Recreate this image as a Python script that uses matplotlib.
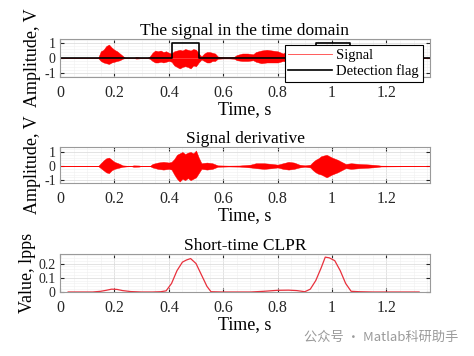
import numpy as np
import matplotlib
matplotlib.use('Agg')
import matplotlib.pyplot as plt
from matplotlib.ticker import AutoMinorLocator

plt.rcParams['font.family'] = ['Liberation Serif', 'DejaVu Serif']

# Signal envelope (time, upper, lower)
t_sig = [0.00, 0.14, 0.15, 0.16, 0.17, 0.18, 0.19, 0.20, 0.21, 0.22, 0.23, 0.24,
         0.27, 0.28, 0.29, 0.30, 0.32, 0.33, 0.34, 0.35, 0.36, 0.37, 0.38, 0.39,
         0.40, 0.41, 0.42, 0.43, 0.44, 0.45, 0.46, 0.47, 0.48, 0.49, 0.50, 0.51,
         0.52, 0.53, 0.54, 0.55, 0.56, 0.57, 0.58, 0.60, 0.62, 0.64, 0.65, 0.67,
         0.69, 0.71, 0.72, 0.74, 0.76, 0.78, 0.80, 0.82, 0.84, 0.85, 0.86, 0.87,
         0.88, 0.90, 0.92, 0.94, 0.96, 0.98, 1.00, 1.02, 1.04, 1.06, 1.08, 1.10,
         1.13, 1.16, 1.19, 1.21, 1.36]
sig_up = [0.0, 0.0, 0.45, 0.55, 0.8, 0.9, 0.7, 0.55, 0.45, 0.3, 0.15, 0.0,
          0.0, 0.06, 0.04, 0.0, 0.0, 0.1, 0.35, 0.5, 0.45, 0.5, 0.4, 0.45,
          0.35, 0.3, 0.45, 0.5, 0.55, 0.5, 0.6, 0.55, 0.5, 0.6, 0.55, 0.3,
          0.1, 0.3, 0.4, 0.4, 0.35, 0.3, 0.1, 0.05, 0.05, 0.08, 0.2, 0.3,
          0.3, 0.25, 0.4, 0.5, 0.55, 0.5, 0.45, 0.3, 0.55, 0.8, 0.5, 0.2,
          0.3, 0.5, 0.6, 0.7, 0.8, 0.9, 0.8, 0.6, 0.4, 0.2, 0.2, 0.15,
          0.15, 0.1, 0.05, 0.0, 0.0]
sig_lo = [0.0, 0.0, -0.2, -0.3, -0.35, -0.4, -0.3, -0.25, -0.2, -0.15, -0.05, 0.0,
          0.0, -0.04, -0.03, 0.0, 0.0, -0.05, -0.2, -0.3, -0.3, -0.25, -0.3, -0.25,
          -0.2, -0.25, -0.5, -0.6, -0.7, -0.6, -0.55, -0.6, -0.7, -0.5, -0.55, -0.3,
          -0.1, -0.2, -0.3, -0.3, -0.2, -0.2, -0.05, -0.03, -0.03, -0.05, -0.15, -0.2,
          -0.2, -0.15, -0.25, -0.35, -0.3, -0.3, -0.3, -0.2, -0.3, -0.45, -0.3, -0.1,
          -0.2, -0.3, -0.4, -0.5, -0.6, -0.7, -0.6, -0.4, -0.3, -0.15, -0.15, -0.1,
          -0.1, -0.08, -0.04, 0.0, 0.0]

# Derivative envelope
t_der = [0.00, 0.14, 0.15, 0.16, 0.17, 0.18, 0.19, 0.20, 0.22, 0.23, 0.26,
         0.27, 0.29, 0.30, 0.33, 0.34, 0.36, 0.38, 0.40, 0.41, 0.42, 0.43, 0.44,
         0.45, 0.46, 0.47, 0.48, 0.49, 0.50, 0.51, 0.52, 0.54, 0.56, 0.58, 0.62,
         0.66, 0.70, 0.72, 0.75, 0.78, 0.80, 0.82, 0.84, 0.86, 0.88, 0.90, 0.92,
         0.93, 0.94, 0.95, 0.96, 0.97, 0.98, 0.99, 1.00, 1.02, 1.04, 1.05, 1.07,
         1.10, 1.13, 1.16, 1.18, 1.36]
der_up = [0.0, 0.0, 0.2, 0.4, 0.55, 0.6, 0.45, 0.3, 0.15, 0.05, 0.0,
          0.05, 0.04, 0.0, 0.0, 0.15, 0.25, 0.3, 0.25, 0.3, 0.5, 0.8, 0.9,
          1.0, 0.85, 0.95, 1.0, 0.9, 1.1, 0.6, 0.2, 0.25, 0.2, 0.05, 0.03,
          0.04, 0.1, 0.2, 0.2, 0.15, 0.1, 0.2, 0.3, 0.25, 0.1, 0.05, 0.1,
          0.3, 0.45, 0.55, 0.7, 0.75, 0.8, 0.7, 0.6, 0.45, 0.25, 0.15, 0.2,
          0.15, 0.12, 0.08, 0.03, 0.0]
der_lo = [0.0, 0.0, -0.15, -0.3, -0.45, -0.5, -0.3, -0.2, -0.1, -0.05, 0.0,
          -0.05, -0.04, 0.0, 0.0, -0.1, -0.2, -0.25, -0.2, -0.25, -0.6, -0.9, -1.1,
          -0.9, -1.0, -0.85, -1.0, -0.9, -0.8, -0.5, -0.2, -0.25, -0.2, -0.05, -0.03,
          -0.04, -0.1, -0.15, -0.2, -0.15, -0.1, -0.2, -0.25, -0.2, -0.1, -0.05, -0.1,
          -0.3, -0.45, -0.55, -0.6, -0.7, -0.8, -0.7, -0.6, -0.45, -0.25, -0.15, -0.2,
          -0.15, -0.12, -0.08, -0.03, 0.0]

# Detection flag steps
t_flag = [0.0, 0.41, 0.41, 0.51, 0.51, 0.94, 0.94, 1.065, 1.065, 1.36]
flag = [0, 0, 1, 1, 0, 0, 1, 1, 0, 0]

# Short-time CLPR
t_clpr = [0.03, 0.08, 0.12, 0.15, 0.17, 0.19, 0.21, 0.23, 0.26, 0.30, 0.34, 0.37,
          0.39, 0.41, 0.43, 0.45, 0.465, 0.48, 0.50, 0.52, 0.54, 0.555, 0.60, 0.65,
          0.70, 0.75, 0.80, 0.84, 0.87, 0.90, 0.92, 0.94, 0.96, 0.975, 0.99, 1.01,
          1.03, 1.05, 1.07, 1.10, 1.15, 1.20, 1.25, 1.32]
clpr = [0.0, 0.0, 0.0, 0.005, 0.012, 0.02, 0.018, 0.01, 0.003, 0.0, 0.0, 0.002,
        0.008, 0.06, 0.15, 0.21, 0.225, 0.235, 0.2, 0.12, 0.04, 0.002, 0.0, 0.0,
        0.0, 0.005, 0.012, 0.013, 0.01, 0.002, 0.02, 0.08, 0.17, 0.245, 0.24, 0.22,
        0.15, 0.06, 0.005, 0.002, 0.0, 0.0, 0.0, 0.0]

W, H = 474, 356
fig = plt.figure(figsize=(W / 100, H / 100), dpi=100)


def style(ax, ylim, yticks, yticklabels):
    ax.set_xlim(0, 1.36)
    ax.set_ylim(*ylim)
    ax.set_xticks([0, 0.2, 0.4, 0.6, 0.8, 1.0, 1.2])
    ax.set_xticklabels(['0', '0.2', '0.4', '0.6', '0.8', '1', '1.2'])
    ax.set_yticks(yticks)
    ax.set_yticklabels(yticklabels)
    ax.xaxis.set_minor_locator(AutoMinorLocator(4))
    ax.yaxis.set_minor_locator(AutoMinorLocator(5))
    ax.grid(True, which='major', color='#d8d8d8', lw=0.5)
    ax.grid(True, which='minor', color='#efefef', lw=0.4)
    ax.set_axisbelow(True)
    ax.tick_params(which='both', direction='in', top=True, right=True,
                   colors='#262626')
    ax.tick_params(axis='x', pad=6, labelsize=11.5)
    ax.tick_params(axis='y', pad=3, labelsize=10)
    ax.tick_params(which='major', length=3)
    ax.tick_params(which='minor', length=0)
    for s in ax.spines.values():
        s.set_color('#9a9a9a')
        s.set_linewidth(0.8)
    ax.set_xlabel('Time, s', fontsize=13, labelpad=0)


ax1 = fig.add_axes([60 / W, 1 - 77 / H, 370 / W, 38 / H])
ax1.fill_between(t_sig, sig_lo, sig_up, color='red', lw=0.3)
l1, = ax1.plot(t_sig, np.zeros(len(t_sig)), color='#ff4040', lw=0.6, label='Signal')
l2, = ax1.plot(t_flag, flag, color='black', lw=1.2, label='Detection flag')
style(ax1, (-1.27, 1.27), [-1, 0, 1], ['-1', '0', '1'])
ax1.set_title('The signal in the time domain', fontsize=12.5, pad=2)
ax1.set_ylabel('Amplitude, V', fontsize=13, labelpad=2)
leg = ax1.legend(loc='upper right', bbox_to_anchor=(0.98, 0.84), fontsize=10.5,
                 fancybox=False, edgecolor='black', framealpha=1,
                 handlelength=3.0, borderpad=0.25, labelspacing=0.15,
                 handletextpad=0.3, borderaxespad=0)
leg.get_frame().set_linewidth(0.8)

ax2 = fig.add_axes([60 / W, 1 - 183 / H, 370 / W, 36 / H])
ax2.fill_between(t_der, der_lo, der_up, color='red', lw=0.3)
ax2.plot(t_der, np.zeros(len(t_der)), color='red', lw=0.6)
style(ax2, (-1.2, 1.35), [-1, 0, 1], ['-1', '0', '1'])
ax2.set_title('Signal derivative', fontsize=12.5, pad=2)
ax2.set_ylabel('Amplitude, V', fontsize=13, labelpad=2)

ax3 = fig.add_axes([60 / W, 1 - 292 / H, 370 / W, 38 / H])
ax3.plot(t_clpr, clpr, color='#e8303c', lw=0.9)
style(ax3, (0, 0.267), [0, 0.1, 0.2], ['0', '0.1', '0.2'])
ax3.set_title('Short-time CLPR', fontsize=12.5, pad=2)
ax3.set_ylabel('Value, lpps', fontsize=13, labelpad=2)

fig.text(0.968, 0.052, '公众号 · Matlab科研助手', ha='right', va='center',
         fontsize=9.5, color='#9a9a9a',
         family=['Noto Sans CJK SC', 'DejaVu Sans'])

fig.savefig('out.png', dpi=100)
